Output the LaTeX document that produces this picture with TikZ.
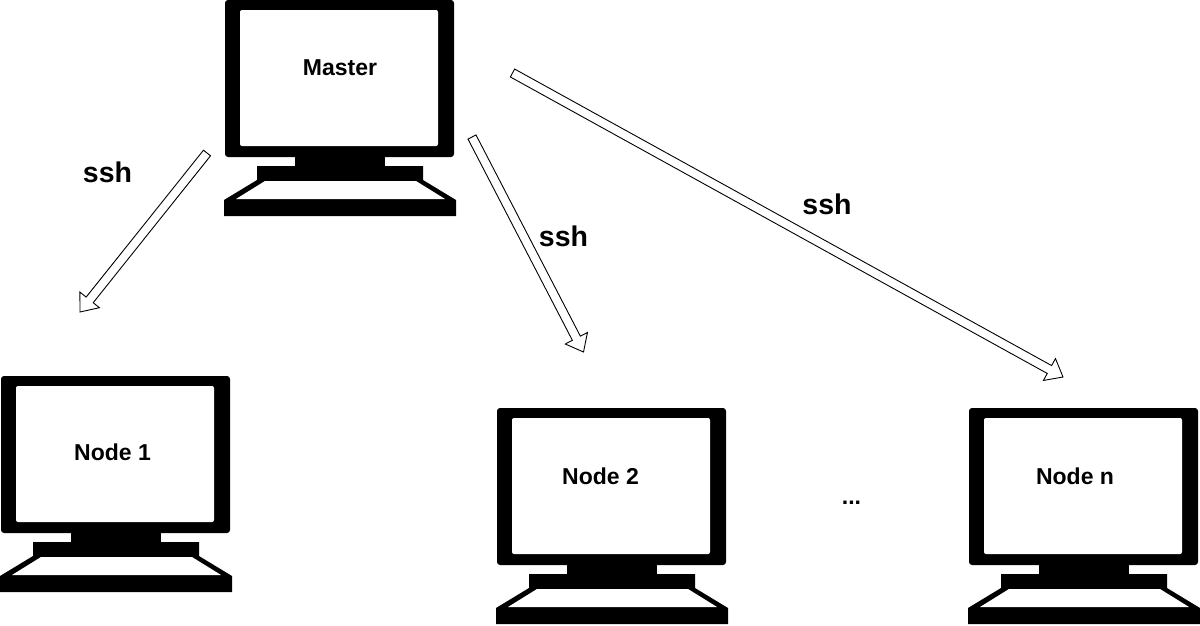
\documentclass[tikz,border=0pt]{standalone}
\usepackage{fontspec}
\setmainfont{Liberation Sans}
\usetikzlibrary{calc}
\tikzset{
  lbl/.style={font=\fontsize{23}{24}\selectfont\bfseries, inner sep=0pt},
  sshlbl/.style={font=\fontsize{28.5}{30}\selectfont\bfseries, inner sep=0pt},
  hollow/.style={line width=0.9pt, line join=miter, to path={
    ($(\tikztostart)!4.5pt!90:(\tikztotarget)$)
    -- ($(\tikztotarget)!15.5pt!(\tikztostart)!4.5pt!-90:(\tikztostart)$)
    -- ($(\tikztotarget)!15.5pt!(\tikztostart)!12.5pt!-90:(\tikztostart)$)
    -- (\tikztotarget)
    -- ($(\tikztotarget)!15.5pt!(\tikztostart)!12.5pt!90:(\tikztostart)$)
    -- ($(\tikztotarget)!15.5pt!(\tikztostart)!4.5pt!90:(\tikztostart)$)
    -- ($(\tikztostart)!4.5pt!-90:(\tikztotarget)$)
    -- cycle}},
  computer/.pic={
    \fill[black, rounded corners=3pt] (0,0) rectangle (229,-157);
    \fill[white, rounded corners=2pt] (15,-10) rectangle (213,-146);
    \fill[black] (70,-157) rectangle (160,-166);
    \fill[black] (32,-166) -- (198,-166) -- (198,-180) -- (231,-200) -- (231,-216)
      -- (-1,-216) -- (-1,-200) -- (32,-180) -- cycle;
    \fill[white] (40,-181) -- (191,-181) -- (220,-199) -- (11,-199) -- cycle;
  }
}
\begin{document}
\begin{tikzpicture}[x=1pt, y=1pt]
  \useasboundingbox (0,0) rectangle (1200,-625);
  \pic at (225,0) {computer};
  \pic at (1,-376) {computer};
  \pic at (497,-408) {computer};
  \pic at (969,-408) {computer};
  \node[lbl] (master) at (340,-68) {Master};
  \node[lbl] (node1) at (112.5,-452) {Node 1};
  \node[lbl] (node2) at (600.5,-476) {Node 2};
  \node[lbl] (noden) at (1075,-476) {Node n};
  \node[lbl] (dots) at (851.5,-503) {...};
  \node[sshlbl] (ssh1) at (107.5,-172) {ssh};
  \node[sshlbl] (ssh2) at (563.5,-236) {ssh};
  \node[sshlbl] (ssh3) at (827,-204) {ssh};
  \coordinate (m1) at (207,-153);
  \coordinate (m2) at (472,-137);
  \coordinate (m3) at (512.5,-73);
  \coordinate (n1) at (80,-312);
  \coordinate (n2) at (583.5,-352);
  \coordinate (n3) at (1063,-377);
  \draw[hollow] (m1) to (n1);
  \draw[hollow] (m2) to (n2);
  \draw[hollow] (m3) to (n3);
\end{tikzpicture}
\end{document}
